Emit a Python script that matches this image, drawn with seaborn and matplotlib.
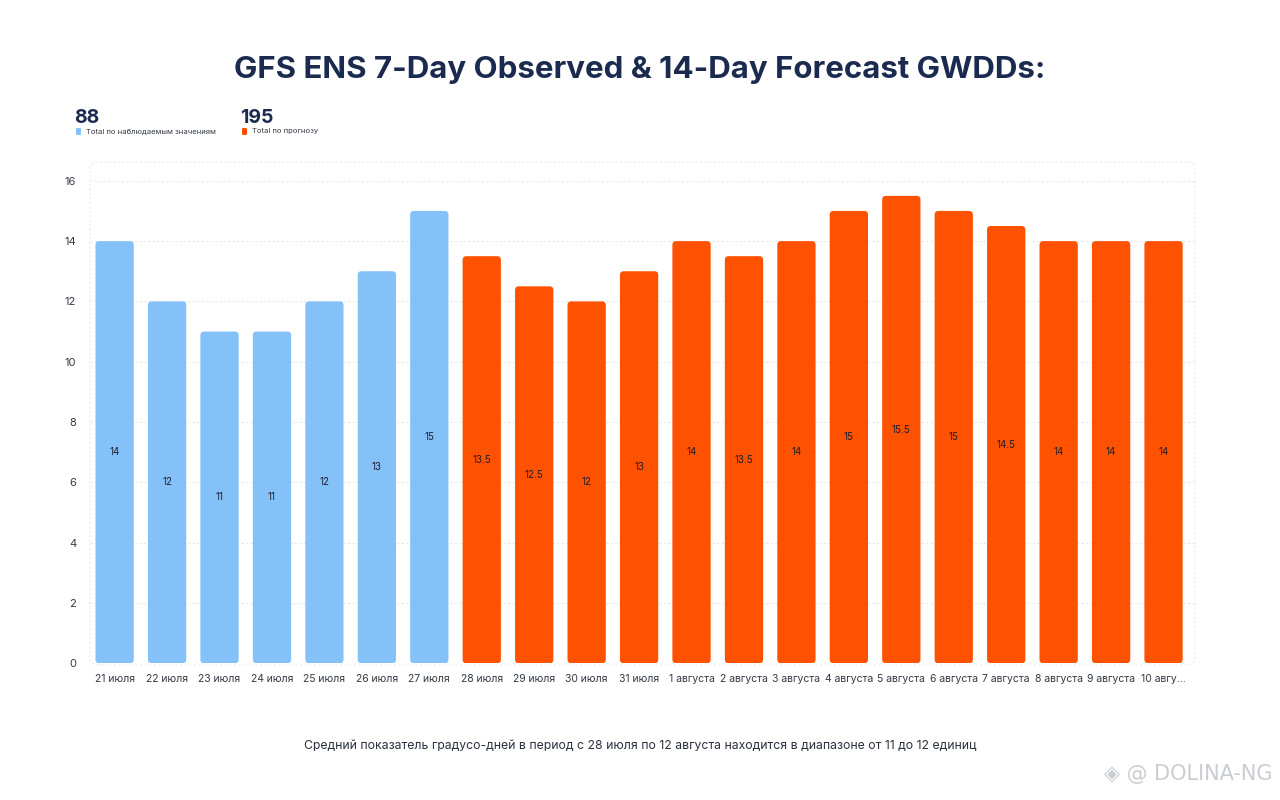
import pandas as pd
import seaborn as sns
import matplotlib
matplotlib.use("Agg")
from matplotlib import pyplot as plt
from matplotlib.patches import FancyBboxPatch

# data
days = ["21 июля", "22 июля", "23 июля", "24 июля", "25 июля", "26 июля", "27 июля",
        "28 июля", "29 июля", "30 июля", "31 июля", "1 августа", "2 августа", "3 августа",
        "4 августа", "5 августа", "6 августа", "7 августа", "8 августа", "9 августа", "10 авгу…"]
observed = [14, 12, 11, 11, 12, 13, 15]
forecast = [13.5, 12.5, 12, 13, 14, 13.5, 14, 15, 15.5, 15, 14.5, 14, 14, 14]
totals = ["88", "195"]
legend_labels = ["Total по наблюдаемым значениям", "Total по прогнозу"]
yticks = [0, 2, 4, 6, 8, 10, 12, 14, 16]

blue = "#85C1F9"
orange = "#FF5200"
navy = "#1B2B50"

days = days[:len(observed) + len(forecast)]
df = pd.DataFrame({
    "day": days,
    "value": observed + forecast,
    "kind": ["obs"] * len(observed) + ["fc"] * len(forecast),
})

sns.set_theme(style="white")
plt.rcParams["font.family"] = ["Inter", "DejaVu Sans"]

fig = plt.figure(figsize=(12.8, 8), dpi=100)
ax = fig.add_axes([0.0703, 0.171, 0.8633, 0.603])

sns.barplot(data=df, x="day", y="value", hue="kind", palette={"obs": blue, "fc": orange},
            dodge=False, width=0.73, legend=False, ax=ax, order=days, saturation=1)

# swap plain rectangles for slightly rounded bars
for p in list(ax.patches):
    x, y = p.get_x(), p.get_y()
    w, h = p.get_width(), p.get_height()
    if h <= 0:
        p.remove()
        continue
    fb = FancyBboxPatch((x, y), w, h, boxstyle="round,pad=0,rounding_size=0.07",
                        mutation_aspect=1.8, facecolor=p.get_facecolor(),
                        edgecolor="none", zorder=2)
    p.remove()
    ax.add_patch(fb)

for i, v in enumerate(df["value"]):
    ax.text(i, v / 2, f"{v:g}", ha="center", va="center", fontsize=7, color="#1f1f2e", zorder=3)

ax.set_xlim(-0.47, len(days) - 0.4)
ax.set_ylim(0, 16)
ax.set_yticks(yticks)
ax.set_xlabel("")
ax.set_ylabel("")
ax.grid(axis="y", color="#e6e8ec", linestyle=(0, (2, 2)), linewidth=0.8, zorder=0)
ax.set_axisbelow(True)
for s in ax.spines.values():
    s.set_visible(False)
ax.tick_params(axis="y", labelsize=8, colors="#333a45", pad=10, length=0)
ax.tick_params(axis="x", labelsize=7.5, colors="#333a45", pad=8, length=0)

# dashed rounded frame around the plot area
frame = FancyBboxPatch((90 / 1280, 1 - 665 / 800), 1105 / 1280, 503 / 800,
                       boxstyle="round,pad=0,rounding_size=0.008", transform=fig.transFigure,
                       facecolor="none", edgecolor="#e8eaee", linestyle=(0, (2, 2)),
                       linewidth=0.8, zorder=0)
fig.patches.append(frame)

fig.text(0.5, 1 - 70 / 800, "GFS ENS 7-Day Observed & 14-Day Forecast GWDDs:",
         ha="center", va="center", fontsize=22.5, fontweight="bold", color=navy)

for xpx, tot, lab, col in zip([74, 240], totals, legend_labels, [blue, orange]):
    fig.text(xpx / 1280, 1 - 118 / 800, tot, ha="left", va="center",
             fontsize=14, fontweight="bold", color=navy)
    fig.patches.append(FancyBboxPatch(((xpx + 2) / 1280, 1 - 135 / 800), 5 / 1280, 7 / 800,
                                      boxstyle="round,pad=0,rounding_size=0.001",
                                      transform=fig.transFigure, facecolor=col, edgecolor="none"))
    fig.text((xpx + 12) / 1280, 1 - 131.5 / 800, lab, ha="left", va="center",
             fontsize=5.5, color="#333a45")

fig.text(0.5, 1 - 746 / 800,
         "Средний показатель градусо-дней в период с 28 июля по 12 августа находится в диапазоне от 11 до 12 единиц",
         ha="center", va="center", fontsize=8.8, color="#2a3140")

fig.text(1272 / 1280, 1 - 774 / 800, "◈ @ DOLINA-NG", ha="right", va="center",
         fontsize=15, color="#c9ccd1", family=["DejaVu Sans"])

fig.savefig("out.png", dpi=100, facecolor="white")
